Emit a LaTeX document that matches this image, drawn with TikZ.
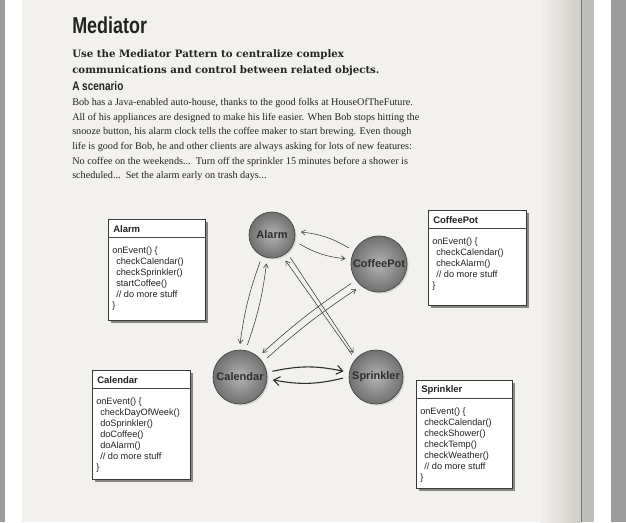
\documentclass[tikz,border=0pt]{standalone}
\usepackage{fontspec}
\setmainfont{Liberation Serif}
\setsansfont{Liberation Sans}
\newfontfamily\slabfont{DejaVu Serif}
\usepackage{graphicx}
\usetikzlibrary{arrows.meta,positioning,calc,shadows}
\definecolor{ink}{RGB}{35,35,35}
\definecolor{paper}{RGB}{243,241,237}
\definecolor{fold}{RGB}{206,204,198}
\definecolor{gutter}{RGB}{190,189,186}
\definecolor{margin}{RGB}{156,156,156}
\tikzset{
  every picture/.style={color=ink, line width=0.5pt},
  umlbox/.style={draw=ink!90, fill=white, line width=0.7pt, anchor=north west, inner sep=0pt,
    drop shadow={shadow xshift=3pt, shadow yshift=-3pt, fill=black!75, opacity=0.6}},
  umltitle/.style={font=\sffamily\bfseries\fontsize{9.5}{11}\selectfont, anchor=west, inner sep=0pt},
  umlbody/.style={font=\sffamily\fontsize{9.2}{10.9}\selectfont, anchor=north west, align=left, inner sep=0pt},
  umlrule/.style={line width=0.5pt, color=ink!85},
  ball/.style={circle, draw=black!72, line width=0.7pt, inner sep=0pt, outer sep=6pt,
    shading=radial, inner color=black!30, outer color=black!56, text=black!82,
    font=\sffamily\bfseries\fontsize{11}{11}\selectfont,
    drop shadow={shadow xshift=1.5pt, shadow yshift=-1.5pt, opacity=0.25}},
  talk/.style={-{Straight Barb[length=4pt,width=5pt]}, line width=0.55pt, color=black!78},
  shout/.style={-{Straight Barb[length=6pt,width=9pt]}, line width=1.1pt, color=black!82},
}

\begin{document}
\begin{tikzpicture}[x=1pt, y=-1pt]
  \useasboundingbox (0,0) rectangle (626,522);
  % the scanned page and its margins
  \fill[margin] (0,0) rectangle (626,522);
  \fill[white] (5,0) rectangle (611,522);
  \fill[paper] (22,0) rectangle (581,522);
  \shade[left color=paper, right color=fold] (540,0) rectangle (581,522);
  \fill[gutter] (582,0) rectangle (594,522);
  \draw[black!55, line width=1pt] (581.5,0) -- (581.5,522);

  % heading and scenario text
  \node[anchor=base west, inner sep=0pt] (title) at (72,33)
    {\scalebox{0.78}[1]{\sffamily\bfseries\fontsize{23}{23}\selectfont Mediator}};
  \node[anchor=north west, align=left, inner sep=0pt,
        font=\slabfont\bfseries\fontsize{10.2}{16}\selectfont] (lead) at (72,49)
    {Use the Mediator Pattern to centralize complex\\
     communications and control between related objects.};
  \node[anchor=west, inner sep=0pt] (scenario) at (72,86)
    {\scalebox{0.8}[1]{\sffamily\bfseries\fontsize{12.5}{12}\selectfont A scenario}};
  \node[anchor=north west, align=left, inner sep=0pt, font=\fontsize{10.2}{14.7}\selectfont] (story) at (72,98)
    {Bob has a Java-enabled auto-house, thanks to the good folks at HouseOfTheFuture.\\
     All of his appliances are designed to make his life easier. When Bob stops hitting the\\
     snooze button, his alarm clock tells the coffee maker to start brewing. Even though\\
     life is good for Bob, he and other clients are always asking for lots of new features:\\
     No coffee on the weekends...\ \ Turn off the sprinkler 15 minutes before a shower is\\
     scheduled...\ \ Set the alarm early on trash days...};

  % class boxes
  \node[umlbox, minimum width=97, minimum height=101] (alarmbox) at (108,219) {};
  \node[umltitle] (alarmname) at ([xshift=5pt,yshift=-10pt]alarmbox.north west) {Alarm};
  \draw[umlrule] ([yshift=-18pt]alarmbox.north west) -- ([yshift=-18pt]alarmbox.north east);
  \node[umlbody] (alarmcode) at ([xshift=4pt,yshift=-28pt]alarmbox.north west)
    {onEvent() \{\\ \hspace*{4pt}checkCalendar()\\ \hspace*{4pt}checkSprinkler()\\
     \hspace*{4pt}startCoffee()\\ \hspace*{4pt}// do more stuff\\ \}};

  \node[umlbox, minimum width=98, minimum height=95] (coffeebox) at (428,210) {};
  \node[umltitle] (coffeename) at ([xshift=5pt,yshift=-10pt]coffeebox.north west) {CoffeePot};
  \draw[umlrule] ([yshift=-18pt]coffeebox.north west) -- ([yshift=-18pt]coffeebox.north east);
  \node[umlbody] (coffeecode) at ([xshift=4pt,yshift=-28pt]coffeebox.north west)
    {onEvent() \{\\ \hspace*{4pt}checkCalendar()\\ \hspace*{4pt}checkAlarm()\\
     \hspace*{4pt}// do more stuff\\ \}};

  \node[umlbox, minimum width=98, minimum height=109] (calendarbox) at (92,370) {};
  \node[umltitle] (calendarname) at ([xshift=5pt,yshift=-10pt]calendarbox.north west) {Calendar};
  \draw[umlrule] ([yshift=-18pt]calendarbox.north west) -- ([yshift=-18pt]calendarbox.north east);
  \node[umlbody] (calendarcode) at ([xshift=4pt,yshift=-28pt]calendarbox.north west)
    {onEvent() \{\\ \hspace*{4pt}checkDayOfWeek()\\ \hspace*{4pt}doSprinkler()\\
     \hspace*{4pt}doCoffee()\\ \hspace*{4pt}doAlarm()\\ \hspace*{4pt}// do more stuff\\ \}};

  \node[umlbox, minimum width=96, minimum height=108] (sprinklerbox) at (416,380) {};
  \node[umltitle] (sprinklername) at ([xshift=5pt,yshift=-10pt]sprinklerbox.north west) {Sprinkler};
  \draw[umlrule] ([yshift=-18pt]sprinklerbox.north west) -- ([yshift=-18pt]sprinklerbox.north east);
  \node[umlbody] (sprinklercode) at ([xshift=4pt,yshift=-28pt]sprinklerbox.north west)
    {onEvent() \{\\ \hspace*{4pt}checkCalendar()\\ \hspace*{4pt}checkShower()\\
     \hspace*{4pt}checkTemp()\\ \hspace*{4pt}checkWeather()\\ \hspace*{4pt}// do more stuff\\ \}};

  % the four objects
  \node[ball, minimum size=46] (alarm) at (272,235) {Alarm};
  \node[ball, minimum size=56] (coffee) at (379,264) {CoffeePot};
  \node[ball, minimum size=54] (calendar) at (240,377) {Calendar};
  \node[ball, minimum size=54] (sprinkler) at (376,377) {Sprinkler};

  % everybody talks to everybody
  \draw[talk] (coffee.152) to[bend right=12] (alarm.6);
  \draw[talk] (alarm.-18) to[bend right=12] (coffee.171);
  \draw[talk] (alarm.-114) to[bend right=6] (calendar.90);
  \draw[talk] (calendar.77) to[bend right=6] (alarm.-101);
  \draw[talk] (alarm.-51) -- (sprinkler.133);
  \draw[talk] (sprinkler.137) -- (alarm.-62);
  \draw[talk] (coffee.215) to[bend right=4] (calendar.47);
  \draw[talk] (calendar.35) to[bend left=4] (coffee.228);
  \draw[shout] (calendar.10) to[bend left=12] (sprinkler.170);
  \draw[shout] (sprinkler.182) to[bend left=12] (calendar.-5);
\end{tikzpicture}
\end{document}
